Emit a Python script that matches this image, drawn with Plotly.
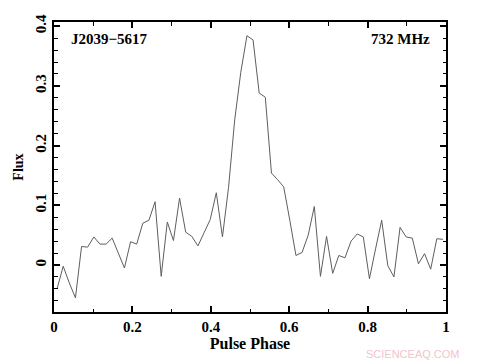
import plotly.graph_objects as go

n_bins = 64
phase = [(i + 0.5) / n_bins for i in range(n_bins)]
flux = [
    -0.040, -0.002, -0.030, -0.055, 0.031, 0.030, 0.047, 0.035,
    0.035, 0.045, 0.020, -0.005, 0.039, 0.035, 0.070, 0.075,
    0.106, -0.019, 0.072, 0.041, 0.112, 0.055, 0.048, 0.032,
    0.054, 0.076, 0.121, 0.047, 0.130, 0.243, 0.323, 0.384,
    0.377, 0.288, 0.281, 0.154, 0.143, 0.131, 0.075, 0.016,
    0.021, 0.050, 0.098, -0.019, 0.048, -0.014, 0.016, 0.012,
    0.040, 0.052, 0.047, -0.023, 0.027, 0.075, -0.001, -0.020,
    0.063, 0.047, 0.045, 0.002, 0.019, -0.007, 0.044, 0.043,
]
x_ticks = [0, 0.2, 0.4, 0.6, 0.8, 1]
x_labels = ["0", "0.2", "0.4", "0.6", "0.8", "1"]
y_ticks = [0, 0.1, 0.2, 0.3, 0.4]
y_labels = ["0", "0.1", "0.2", "0.3", "0.4"]

FONT = "Liberation Serif"

fig = go.Figure()
fig.add_trace(go.Scatter(x=phase, y=flux, mode="lines",
                         line=dict(color="#5e5e5e", width=1), showlegend=False))

axis_common = dict(showgrid=False, zeroline=False, showline=True, linecolor="black",
                   linewidth=2, mirror="allticks", ticks="inside", ticklen=6,
                   tickwidth=1.5, tickcolor="black", automargin=False,
                   tickfont=dict(family=FONT, size=15, color="black", weight="bold"))

fig.update_xaxes(range=[0, 1], tickvals=x_ticks, ticktext=x_labels,
                 minor=dict(ticks="inside", ticklen=3.5, dtick=0.1, tickwidth=1.2, tickcolor="black"),
                 title=dict(text="Pulse Phase", standoff=0,
                            font=dict(family=FONT, size=16, color="black", weight="bold")),
                 **axis_common)
fig.update_yaxes(range=[-0.0787, 0.407], tickvals=y_ticks, ticktext=y_labels, tickangle=-90,
                 minor=dict(ticks="inside", ticklen=3.5, dtick=0.02, tickwidth=1.2, tickcolor="black"),
                 title=dict(text="Flux", standoff=6,
                            font=dict(family=FONT, size=14, color="black", weight="bold")),
                 **axis_common)

fig.add_annotation(x=0.038, y=0.378, xref="x", yref="y", text="J2039−5617", showarrow=False,
                   xanchor="left", yanchor="middle",
                   font=dict(family=FONT, size=15, color="black", weight="bold"))
fig.add_annotation(x=0.963, y=0.378, xref="x", yref="y", text="732 MHz", showarrow=False,
                   xanchor="right", yanchor="middle",
                   font=dict(family=FONT, size=15, color="black", weight="bold"))
fig.add_annotation(x=1.04, y=-0.145, xref="paper", yref="paper", text="SCIENCEAQ.COM",
                   showarrow=False, xanchor="right", yanchor="middle",
                   font=dict(family="Liberation Sans", size=11, color="#f2c4cc"))

fig.update_layout(width=479, height=363, margin=dict(l=54, r=33, t=22, b=51),
                  plot_bgcolor="white", paper_bgcolor="white")

fig.write_html("out.html", config={"displayModeBar": False},
               post_script="document.body.style.margin='0px';document.body.style.padding='0px';")
